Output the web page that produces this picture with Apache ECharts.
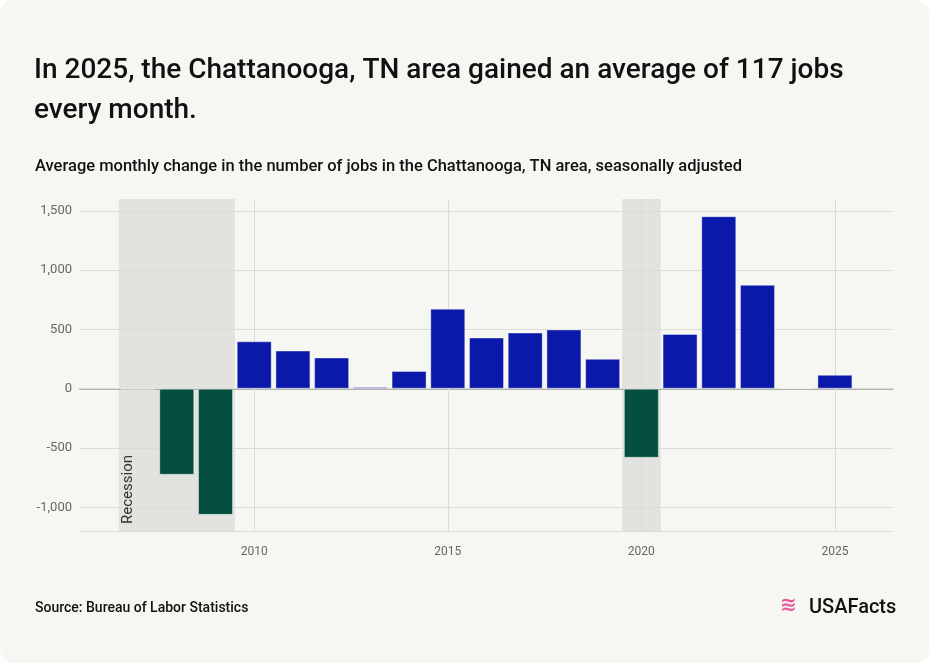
<!DOCTYPE html>
<html>
<head>
<meta charset="utf-8">
<script src="https://cdn.jsdelivr.net/npm/echarts@6/dist/echarts.min.js"></script>
<style>
  html, body { margin: 0; padding: 0; background: #ffffff; }
  #card { position: absolute; left: 0; top: 0; width: 929px; height: 663px; background: #f6f6f2; border-radius: 14px; overflow: hidden; }
  #chart { width: 929px; height: 663px; }
</style>
</head>
<body>
<div id="card"><div id="chart"></div></div>
<script>
// data
const years = [2007, 2008, 2009, 2010, 2011, 2012, 2013, 2014, 2015, 2016, 2017, 2018, 2019, 2020, 2021, 2022, 2023, 2024, 2025];
const jobChange = [-5, -726, -1064, 400, 322, 263, 15, 150, 675, 432, 474, 500, 252, -582, 462, 1455, 876, 5, 117];
const recessions = [[2006.5, 2009.5], [2019.5, 2020.5]];
const xTicks = [2010, 2015, 2020, 2025];
const yTicks = [-1000, -500, 0, 500, 1000, 1500];

const blue = "#0a19aa";
const green = "#044f3f";
const gridColor = "#dcdcd7";
const font = "Roboto";

const chart = echarts.init(document.getElementById("chart"));

const barData = years.map(function (y, i) {
    const v = jobChange[i];
    return { value: [y, v], itemStyle: { color: v < 0 ? green : blue } };
});

const option = {
    backgroundColor: "transparent",
    animation: false,
    textStyle: { fontFamily: font },
    title: [
        {
            text: "In 2025, the Chattanooga, TN area gained an average of 117 jobs\nevery month.",
            left: 29, top: 46,
            textStyle: { fontFamily: font, fontSize: 28, fontWeight: 500, color: "#111111", lineHeight: 40 }
        },
        {
            text: "Average monthly change in the number of jobs in the Chattanooga, TN area, seasonally adjusted",
            left: 30, top: 153,
            textStyle: { fontFamily: font, fontSize: 16.5, fontWeight: 500, color: "#111111" }
        },
        {
            text: "Source: Bureau of Labor Statistics",
            left: 30, top: 596,
            textStyle: { fontFamily: font, fontSize: 14, fontWeight: 500, color: "#111111" }
        },
        {
            text: "USAFacts",
            left: 804, top: 593,
            textStyle: { fontFamily: font, fontSize: 20, fontWeight: 500, color: "#111111" }
        }
    ],
    graphic: [
        {
            type: "text",
            x: 121, y: 524,
            z: 100,
            rotation: Math.PI / 2,
            style: { text: "Recession", font: "15px Roboto", fill: "#333333" }
        },
        {
            type: "text",
            left: 780, top: 596,
            z: 100,
            style: { text: "≋", font: "bold 20px DejaVu Sans", fill: "#e8589b" }
        }
    ],
    grid: { left: 80, right: 36, top: 199, bottom: 132 },
    xAxis: {
        type: "value",
        min: 2005.5,
        max: 2026.5,
        axisLine: { onZero: true, lineStyle: { color: "#9a9a96", width: 1.5 } },
        axisTick: { show: false },
        splitLine: { show: false },
        axisLabel: {
            customValues: xTicks,
            color: "#666666",
            fontSize: 12,
            margin: 15,
            formatter: function (v) { return String(v); }
        }
    },
    yAxis: {
        type: "value",
        min: -1200,
        max: 1600,
        axisLine: { show: false },
        axisTick: { show: false },
        splitLine: { show: false },
        axisLabel: {
            customValues: yTicks,
            color: "#666666",
            fontSize: 13,
            margin: 8,
            formatter: function (v) { return v.toLocaleString("en-US"); }
        }
    },
    series: [
        {
            // recession shading and grid lines
            type: "line",
            data: [],
            silent: true,
            markArea: {
                silent: true,
                z: 0,
                itemStyle: { color: "#e2e2de" },
                data: recessions.map(function (r) { return [{ xAxis: r[0] }, { xAxis: r[1] }]; })
            },
            markLine: {
                silent: true,
                z: 1,
                symbol: "none",
                label: { show: false },
                lineStyle: { color: gridColor, type: "solid", width: 1 },
                data: yTicks.concat([-1200]).map(function (v) { return { yAxis: v }; })
                    .concat(xTicks.map(function (v) { return { xAxis: v }; }))
            }
        },
        {
            type: "bar",
            data: barData,
            barWidth: 35,
            z: 3,
            itemStyle: { borderColor: "rgba(255,255,255,0.4)", borderWidth: 1 }
        }
    ]
};

chart.setOption(option);
</script>
</body>
</html>
